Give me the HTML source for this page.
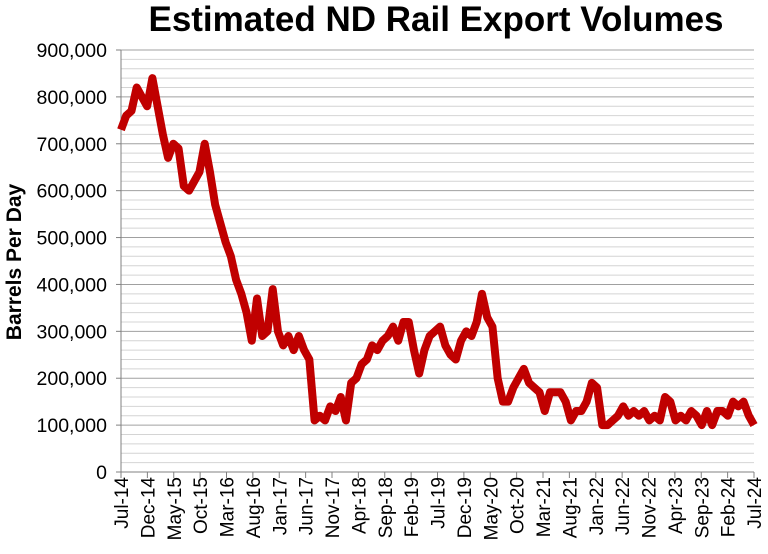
<!DOCTYPE html>
<html><head><meta charset="utf-8"><style>
body{margin:0;background:#fff;}
svg{display:block;font-family:"Liberation Sans",Arial,sans-serif;}
</style></head><body>
<svg id="c" width="768" height="554">
<text x="436" y="31" text-anchor="middle" font-size="35" font-weight="bold">Estimated ND Rail Export Volumes</text>
<text transform="translate(21,262) rotate(-90)" text-anchor="middle" font-size="21" font-weight="bold">Barrels Per Day</text>
<g id="grid"></g><g id="axes"></g><g id="series"></g>
</svg>
<script>
const yTicks=[0,100000,200000,300000,400000,500000,600000,700000,800000,900000];
const xLabels=["Jul-14","Dec-14","May-15","Oct-15","Mar-16","Aug-16","Jan-17","Jun-17","Nov-17","Apr-18","Sep-18","Feb-19","Jul-19","Dec-19","May-20","Oct-20","Mar-21","Aug-21","Jan-22","Jun-22","Nov-22","Apr-23","Sep-23","Feb-24","Jul-24"];
const volumes=[730,760,770,820,800,780,840,780,720,670,700,690,610,600,620,640,700,640,570,530,490,460,410,380,340,280,370,290,300,390,300,270,290,260,290,260,240,110,120,110,140,130,160,110,190,200,230,240,270,260,280,290,310,280,320,320,260,210,260,290,300,310,270,250,240,280,300,290,320,380,330,310,200,150,150,180,200,220,190,180,170,130,170,170,170,150,110,130,130,150,190,180,100,100,110,120,140,120,130,120,130,110,120,110,160,150,110,120,110,130,120,100,130,100,130,130,120,150,140,150,120,100].map(v=>v*1000);
const NS="http://www.w3.org/2000/svg";
const L=121,R=754,T=50,B=472,YMAX=900000;
const ys=v=>B-(v/YMAX)*(B-T);
const xs=i=>L+i*(R-L)/(volumes.length-1);
const xm=m=>L+m*(R-L)/120;
function mk(t,a,p){const e=document.createElementNS(NS,t);for(const k in a)e.setAttribute(k,a[k]);p.appendChild(e);return e;}
const grid=document.getElementById('grid'),axes=document.getElementById('axes'),ser=document.getElementById('series');
for(let v=20000;v<=YMAX;v+=20000){
 const l=mk('line',{x1:L,x2:R,y1:ys(v),y2:ys(v),stroke:v%100000===0?'#a0a0a0':'#d4d4d4','stroke-width':1},grid);
 
 
}
yTicks.forEach(v=>{
 const t=mk('text',{x:L-14,y:ys(v)+7,'text-anchor':'end','font-size':19.5},axes);
 t.textContent=v.toLocaleString('en-US');
 
 
 mk('line',{x1:L-5,x2:L,y1:ys(v),y2:ys(v),stroke:'#808080'},axes);
});
const ax=mk('line',{x1:L,x2:L,y1:T,y2:B,stroke:'#808080'},axes);


const bx=mk('line',{x1:L,x2:R,y1:B,y2:B,stroke:'#808080'},axes);


xLabels.forEach((s,i)=>{
 const x=xm(i*5);
 mk('line',{x1:x,x2:x,y1:B,y2:B+6,stroke:'#808080'},axes);
 const t=mk('text',{transform:`translate(${x+7},${B+5}) rotate(-90)`,'text-anchor':'end','font-size':19},axes);
 t.textContent=s;
 
 
});
const p=mk('polyline',{points:volumes.map((v,i)=>xs(i)+','+ys(v)).join(' '),fill:'none',stroke:'#c00000','stroke-width':8,'stroke-linejoin':'round'},ser);


</script>
</body></html>
